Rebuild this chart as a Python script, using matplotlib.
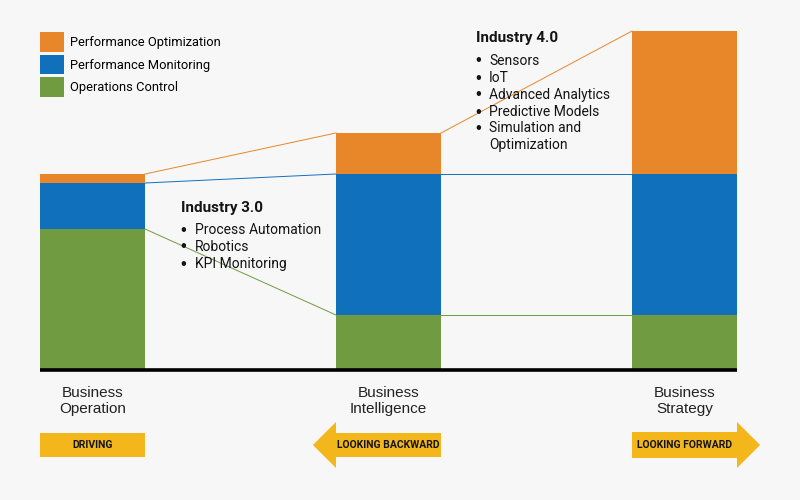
import matplotlib
matplotlib.use("Agg")
import matplotlib.pyplot as plt
from matplotlib.patches import FancyArrow, Rectangle

# stage names and stacked segment heights
stages = ["Business\nOperation", "Business\nIntelligence", "Business\nStrategy"]
ops_control = [141, 55, 55]
perf_monitoring = [46, 141, 141]
perf_optimization = [9, 41, 143]
series_names = ["Performance Optimization", "Performance Monitoring", "Operations Control"]
arrow_labels = ["DRIVING", "LOOKING BACKWARD", "LOOKING FORWARD"]
arrow_dirs = [0, -1, 1]

ind3_title = "Industry 3.0"
ind3_items = ["Process Automation", "Robotics", "KPI Monitoring"]
ind4_title = "Industry 4.0"
ind4_items = ["Sensors", "IoT", "Advanced Analytics", "Predictive Models", "Simulation and\nOptimization"]

orange = "#e8872a"
blue = "#1170bc"
green = "#709b41"
yellow = "#f3b71b"
bg = "#f7f7f7"
ink = "#141414"

narrow = ["Roboto", "DejaVu Sans"]
regular = ["Liberation Sans", "DejaVu Sans"]

fig = plt.figure(figsize=(8, 5), dpi=100, facecolor=bg)
w = 105 / 296
ax = fig.add_axes([40 / 800, 130 / 500, 697 / 800, 370 / 500])
ax.set_facecolor(bg)
ax.set_xlim(-w / 2, 2 + w / 2)
ax.set_ylim(0, 370)
ax.axis("off")

x = list(range(len(stages)))
lvl1 = ops_control
lvl2 = [a + b for a, b in zip(ops_control, perf_monitoring)]
lvl3 = [a + b for a, b in zip(lvl2, perf_optimization)]

ax.bar(x, ops_control, width=w, color=green, label=series_names[2], zorder=3)
ax.bar(x, perf_monitoring, width=w, bottom=lvl1, color=blue, label=series_names[1], zorder=3)
ax.bar(x, perf_optimization, width=w, bottom=lvl2, color=orange, label=series_names[0], zorder=3)

# thin connectors between bars
for lv, c in [(lvl1, green), (lvl2, blue), (lvl3, orange)]:
    for i in range(len(x) - 1):
        ax.plot([x[i] + w / 2, x[i + 1] - w / 2], [lv[i], lv[i + 1]], color=c, lw=0.7, zorder=2)

ax.plot([-w / 2, 2 + w / 2], [0, 0], color="black", lw=2.6, zorder=4, solid_capstyle="butt", clip_on=False)

for xi, name in zip(x, stages):
    ax.text(xi, -31, name, ha="center", va="center", fontsize=11, family=regular,
            color="#222222", linespacing=1.1)

# direction arrows
ay = -75
for xi, lab, d in zip(x, arrow_labels, arrow_dirs):
    if d == 0:
        ax.add_patch(Rectangle((xi - w / 2, ay - 12), w, 24, color=yellow, lw=0, clip_on=False))
    elif d < 0:
        ax.add_patch(FancyArrow(xi + w / 2, ay, -(w + 0.078), 0, width=24, head_width=46,
                                head_length=0.078, length_includes_head=True, color=yellow,
                                lw=0, clip_on=False))
    else:
        ax.add_patch(FancyArrow(xi - w / 2, ay, w + 0.078, 0, width=26, head_width=46,
                                head_length=0.078, length_includes_head=True, color=yellow,
                                lw=0, clip_on=False))
    ax.text(xi, ay, lab, ha="center", va="center", fontsize=7.5, fontweight="bold",
            family=narrow, color=ink)

handles, labels = ax.get_legend_handles_labels()
ax.legend(handles[::-1], labels[::-1], loc="upper left", bbox_to_anchor=(40 / 800, 1 - 32 / 500),
          bbox_transform=fig.transFigure, frameon=False, prop={"family": narrow, "size": 9.3},
          handlelength=1.85, handleheight=2.0, handletextpad=0.5, labelspacing=0.2,
          borderpad=0, borderaxespad=0)


def px(xp, yp):
    return xp / 800, 1 - yp / 500


fs = 10
fig.text(*px(181, 208), ind3_title, fontsize=11, fontweight="bold", family=narrow, va="center", color=ink)
for i, item in enumerate(ind3_items):
    yy = 230 + 17 * i
    fig.text(*px(180, yy), "\u2022", fontsize=12, family=regular, va="center", color=ink)
    fig.text(*px(195, yy), item, fontsize=fs, family=narrow, va="center", color=ink)

fig.text(*px(476, 38), ind4_title, fontsize=11, fontweight="bold", family=narrow, va="center", color=ink)
for i, item in enumerate(ind4_items):
    yy = 61 + 17 * i
    fig.text(*px(475, yy), "\u2022", fontsize=12, family=regular, va="center", color=ink)
    if "\n" in item:
        fig.text(*px(489, yy - 8), item, fontsize=fs, family=narrow, va="top", color=ink, linespacing=1.25)
    else:
        fig.text(*px(489, yy), item, fontsize=fs, family=narrow, va="center", color=ink)

fig.savefig("out.png", dpi=100, facecolor=bg)
